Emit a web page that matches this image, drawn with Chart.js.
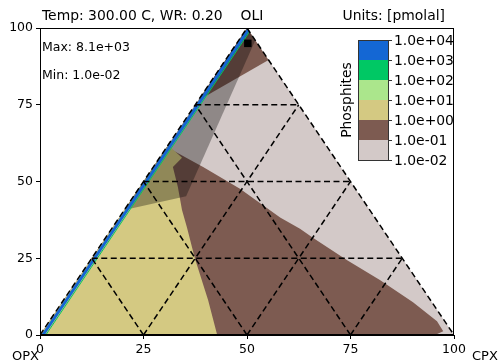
<!DOCTYPE html>
<html>
<head>
<meta charset="utf-8">
<script src="https://cdn.jsdelivr.net/npm/chart.js@4.4.1/dist/chart.umd.min.js"></script>
<style>
  html, body { margin: 0; padding: 0; background: #fff; }
  #wrap { width: 500px; height: 364px; }
</style>
</head>
<body>
<div id="wrap"><canvas id="chart"></canvas></div>
<script>
// axis ticks (both axes)
const tickValues = [0, 25, 50, 75, 100];

// colorbar levels, bottom to top
const levelLabels = ['1.0e-02', '1.0e-01', '1.0e+00', '1.0e+01', '1.0e+02', '1.0e+03', '1.0e+04'];
const levelColors = ['#d3c9c8', '#7d5b51', '#d4c982', '#abe68c', '#00c864', '#1467d4'];

// filled contour bands, [x, y] in plot units
const greyBand = [[0, 0], [100, 0], [50, 100]];
const brownBand = [[0, 0], [30.6, 61.2], [39.4, 54.7], [48.3, 47.6], [58, 38.3], [62.8, 34.6],
  [66, 31.6], [74.1, 24.4], [82.1, 17.9], [90.1, 10.7], [95.9, 4.5], [97.4, 1.2], [95.4, 0]];
const apexBand = [[38.3, 76.5], [55.2, 89.6], [50, 100]];
const tanBand = [[0, 0], [42.8, 0], [40.6, 11.4], [37.4, 25], [35.5, 35], [34.3, 40.7], [33.3, 48.2],
  [32.1, 54.7], [34.3, 57.7], [31.5, 61.2], [30.6, 61.2]];
const shadeArea = [[20.35, 40.7], [35.3, 45.2], [52, 96], [50, 100]];
const blueEdge = [[0.7, 0], [50.3, 99.4]];
const greenEdge = [[1.4, 0], [50.6, 98.8]];
const maxPoint = [[50.2, 95]];

// dashed ternary grid
const gridSegments = [
  [[0, 0], [50, 100]], [[50, 100], [100, 0]], [[0, 0], [100, 0]],
  [[12.5, 25], [87.5, 25]], [[25, 50], [75, 50]], [[37.5, 75], [62.5, 75]],
  [[25, 0], [62.5, 75]], [[50, 0], [75, 50]], [[75, 0], [87.5, 25]],
  [[75, 0], [37.5, 75]], [[50, 0], [25, 50]], [[25, 0], [12.5, 25]]
];

const FONT = 'DejaVu Sans';
const toPoints = (pairs) => pairs.map(([x, y]) => ({ x, y }));

function band(pairs, color) {
  return {
    data: toPoints(pairs), backgroundColor: color, borderColor: color,
    borderWidth: 0, fill: 'shape', pointRadius: 0
  };
}

function stroke(pairs, color, width, dash) {
  return {
    data: toPoints(pairs), borderColor: color, borderWidth: width,
    borderDash: dash || [], fill: false, pointRadius: 0
  };
}

// listed bottom to top
const layers = [
  band(greyBand, levelColors[0]),
  band(brownBand, levelColors[1]),
  band(apexBand, levelColors[1]),
  band(tanBand, levelColors[2]),
  band(shadeArea, 'rgba(0,0,0,0.32)'),
  stroke(blueEdge, levelColors[5], 3),
  stroke(greenEdge, levelColors[4], 1),
  ...gridSegments.map((seg) => stroke(seg, '#000', 1.5, [6, 3.5])),
  {
    data: toPoints(maxPoint), showLine: false, pointStyle: 'rect',
    pointRadius: 5.3, backgroundColor: '#000', borderColor: '#000', borderWidth: 0
  }
];
layers.forEach((ds, i) => { ds.order = layers.length - i; ds.tension = 0; });

const textPlugin = {
  id: 'ternaryText',
  afterDraw(chart) {
    const { ctx, chartArea: a } = chart;
    ctx.save();
    ctx.strokeStyle = '#000';
    ctx.lineWidth = 1;
    ctx.strokeRect(a.left + 0.5, a.top + 0.5, a.right - a.left - 1, a.bottom - a.top - 1);

    ctx.fillStyle = '#000';
    ctx.textBaseline = 'alphabetic';
    ctx.font = `13.9px "${FONT}"`;
    ctx.textAlign = 'left';
    ctx.fillText('Temp: 300.00 C, WR: 0.20', 42, 19.5);
    ctx.textAlign = 'center';
    ctx.fillText('OLI', 252, 19.5);
    ctx.textAlign = 'right';
    ctx.fillText('Units: [pmolal]', 445, 19.5);

    ctx.font = `12.5px "${FONT}"`;
    ctx.textAlign = 'left';
    ctx.fillText('Max: 8.1e+03', 42, 51);
    ctx.fillText('Min: 1.0e-02', 42, 79);
    ctx.font = `13px "${FONT}"`;
    ctx.fillText('OPX', 12, 360);
    ctx.fillText('CPX', 472, 360);

    // colorbar
    const cx = 358, cw = 30, top = 40, seg = 20;
    const n = levelColors.length;
    levelColors.forEach((c, i) => {
      ctx.fillStyle = c;
      ctx.fillRect(cx, top + (n - 1 - i) * seg, cw, seg);
    });
    ctx.strokeStyle = '#333';
    ctx.strokeRect(cx + 0.5, top + 0.5, cw, n * seg);
    ctx.fillStyle = '#000';
    ctx.font = `13.9px "${FONT}"`;
    ctx.textAlign = 'left';
    ctx.textBaseline = 'middle';
    levelLabels.forEach((lab, i) => {
      const y = top + (n - i) * seg;
      ctx.beginPath();
      ctx.moveTo(cx + cw, y + 0.5);
      ctx.lineTo(cx + cw + 4, y + 0.5);
      ctx.stroke();
      ctx.fillText(lab, cx + cw + 6, y + 1);
    });
    ctx.translate(347, top + n * seg / 2);
    ctx.rotate(-Math.PI / 2);
    ctx.textAlign = 'center';
    ctx.fillText('Phosphites', 0, 0);
    ctx.restore();
  }
};

const axis = (pos, fit) => ({
  type: 'linear', position: pos, min: 0, max: 100,
  afterBuildTicks: (s) => { s.ticks = tickValues.map((v) => ({ value: v })); },
  afterFit: fit,
  ticks: { color: '#000', font: { family: FONT, size: 12.5 }, padding: 3 },
  grid: { drawOnChartArea: false, drawTicks: true, tickLength: 4, color: '#000' },
  border: { display: true, color: '#000', width: 1 }
});

new Chart(document.getElementById('chart'), {
  type: 'line',
  data: { datasets: layers },
  options: {
    responsive: true,
    maintainAspectRatio: false,
    animation: false,
    layout: { padding: { top: 28, right: 46, left: 0, bottom: 0 } },
    plugins: { legend: { display: false }, tooltip: { enabled: false } },
    scales: {
      x: axis('bottom', (s) => { s.height = 29; }),
      y: axis('left', (s) => { s.width = 40; })
    }
  },
  plugins: [textPlugin]
});
</script>
</body>
</html>
